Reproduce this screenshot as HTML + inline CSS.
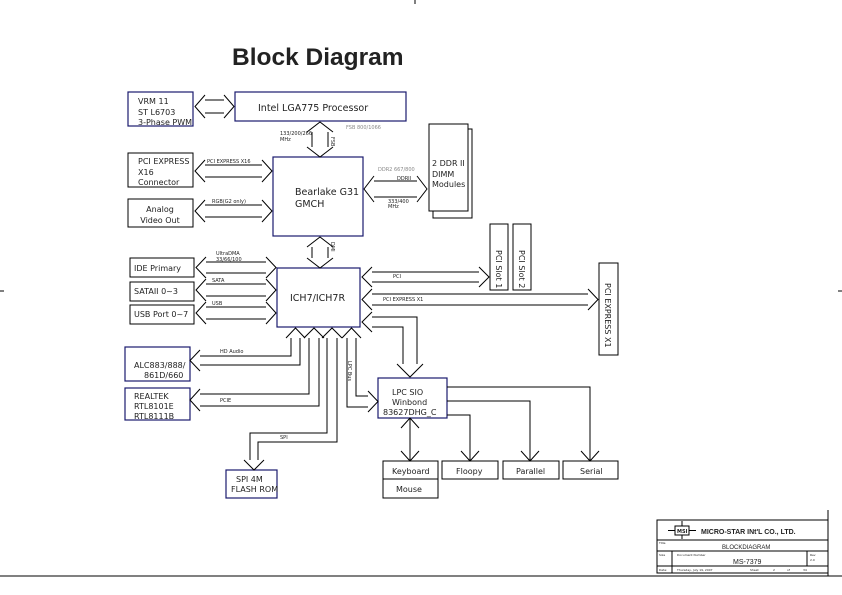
<!DOCTYPE html>
<html><head><meta charset="utf-8"><style>
html,body{margin:0;padding:0;background:#fff}
svg{display:block}
text{font-family:"DejaVu Sans","Liberation Sans",sans-serif;fill:#222}
.b{fill:#fff;stroke:#1a1a6e;stroke-width:1.2}
.k{fill:#fff;stroke:#000;stroke-width:1}
.l{fill:none;stroke:#000;stroke-width:1}
.t{font-size:8px}
.s{font-size:5px}
.g{font-size:5px;fill:#888}
</style></head><body>
<svg width="842" height="595" viewBox="0 0 842 595" xmlns="http://www.w3.org/2000/svg">
<text x="232" y="65" style="font-family:'Liberation Sans',sans-serif;font-weight:bold;font-size:24.5px" fill="#000">Block Diagram</text>
<line x1="415" y1="0" x2="415" y2="4" class="l"/>
<line x1="0" y1="291" x2="4" y2="291" class="l"/>
<line x1="838" y1="291" x2="842" y2="291" class="l"/>

<!-- boxes -->
<rect class="b" x="128" y="92" width="65" height="34"/>
<text class="t" x="138" y="104">VRM 11</text><text class="t" x="138" y="115">ST L6703</text><text class="t" x="138" y="125">3-Phase PWM</text>
<rect class="b" x="235" y="92" width="171" height="29"/>
<text x="258" y="111" style="font-size:9.5px">Intel LGA775 Processor</text>
<rect class="k" x="128" y="153" width="65" height="34"/>
<text class="t" x="138" y="164">PCI EXPRESS</text><text class="t" x="138" y="175">X16</text><text class="t" x="138" y="185">Connector</text>
<rect class="k" x="128" y="199" width="65" height="28"/>
<text class="t" x="160" y="212" text-anchor="middle">Analog</text><text class="t" x="160" y="223" text-anchor="middle">Video Out</text>
<rect class="b" x="273" y="157" width="90" height="79"/>
<text x="295" y="195" style="font-size:9.5px">Bearlake G31</text><text x="295" y="207" style="font-size:9.5px">GMCH</text>
<rect class="k" x="433" y="129" width="39" height="89"/>
<rect class="k" x="429" y="124" width="39" height="87"/>
<text class="t" x="432" y="166">2 DDR II</text><text class="t" x="432" y="177">DIMM</text><text class="t" x="432" y="187">Modules</text>

<rect class="k" x="130" y="258" width="64" height="19"/><text class="t" x="134" y="271">IDE Primary</text>
<rect class="k" x="130" y="282" width="64" height="19"/><text class="t" x="134" y="294">SATAII 0~3</text>
<rect class="k" x="130" y="305" width="64" height="19"/><text class="t" x="134" y="317">USB Port 0~7</text>
<rect class="b" x="277" y="268" width="83" height="59"/>
<text x="290" y="301" style="font-size:9.5px">ICH7/ICH7R</text>
<rect class="k" x="490" y="224" width="18" height="66"/>
<text class="t" transform="translate(496,250) rotate(90)">PCI Slot 1</text>
<rect class="k" x="513" y="224" width="18" height="66"/>
<text class="t" transform="translate(519,250) rotate(90)">PCI Slot 2</text>
<rect class="k" x="599" y="263" width="19" height="92"/>
<text class="t" transform="translate(605,283) rotate(90)">PCI EXPRESS X1</text>

<rect class="b" x="125" y="347" width="65" height="34"/>
<text class="t" x="134" y="368">ALC883/888/</text><text class="t" x="144" y="378">861D/660</text>
<rect class="b" x="125" y="388" width="65" height="32"/>
<text class="t" x="134" y="399">REALTEK</text><text class="t" x="134" y="409">RTL8101E</text><text class="t" x="134" y="419">RTL8111B</text>
<rect class="b" x="378" y="378" width="69" height="40"/>
<text class="t" x="392" y="395">LPC SIO</text><text class="t" x="392" y="405">Winbond</text><text class="t" x="383" y="415">83627DHG_C</text>
<rect class="b" x="226" y="470" width="51" height="28"/>
<text class="t" x="236" y="482">SPI 4M</text><text class="t" x="231" y="492">FLASH ROM</text>
<rect class="k" x="383" y="461" width="55" height="37"/><line class="l" x1="383" y1="479" x2="438" y2="479"/>
<text class="t" x="392" y="474">Keyboard</text><text class="t" x="396" y="492">Mouse</text>
<rect class="k" x="442" y="461" width="56" height="18"/><text class="t" x="456" y="474">Floopy</text>
<rect class="k" x="503" y="461" width="56" height="18"/><text class="t" x="516" y="474">Parallel</text>
<rect class="k" x="563" y="461" width="55" height="18"/><text class="t" x="580" y="474">Serial</text>

<!-- arrows -->
<g class="l">
<path d="M205 95L195 106.5L205 118M205 100H224M205 113H224M224 95L234 106.5L224 118"/>
<path d="M205 160L195 171L205 182M205 165H262M205 177H262M262 160L272 171L262 182"/>
<path d="M205 200L195 211L205 222M205 205H262M205 217H262M262 200L272 211L262 222"/>
<path d="M374 176L364 189L374 202M374 181H417M374 197H417M417 176L427 189L417 202"/>
<path d="M307 132L320 122L333 132M312 132V147M328 132V147M307 147L320 157L333 147"/>
<path d="M307 247L320 237L333 247M312 247V258M328 247V258M307 258L320 268L333 258"/>
<path d="M206 257L196 267.5L206 278M206 262H266M206 273H266M266 257L276 267.5L266 278"/>
<path d="M206 279L196 290L206 301M206 284H266M206 296H266M266 279L276 290L266 301"/>
<path d="M206 302L196 313L206 324M206 307H266M206 319H266M266 302L276 313L266 324"/>
<path d="M372 267L362 277L372 287M372 272H479M372 282H479M479 267L489 277L479 287"/>
<path d="M372 289L362 299.5L372 310M372 294H588M372 305H588M588 289L598 299.5L588 310"/>
<path d="M372 312L362 322L372 332M372 317H417V364M372 327H403V364M397 364L410 377L423 364"/>
<path d="M286 338L295.5 328L305 338M291 338V356H200M300 338V365H200M200 350L190 360.5L200 371"/>
<path d="M304 338L314 328L324 338M309 338V394H200M319 338V406H200M200 389L190 400L200 411"/>
<path d="M322 338L332 328L342 338M327 338V433H250V460M337 338V442H258V460M244 460L254 470L264 460"/>
<path d="M342 338L351.5 328L361 338M347 338V407H368M356 338V396H368M368 391L378 401.5L368 412"/>
<path d="M401 428L410 418L419 428M410 418V461M401 451L410 461L419 451"/>
<path d="M447 415H470V461M461 451L470 461L479 451"/>
<path d="M447 401H530V461M521 451L530 461L539 451"/>
<path d="M447 387H590V461M581 451L590 461L599 451"/>
</g>

<!-- labels -->
<text class="s" x="280" y="135">133/200/266</text><text class="s" x="280" y="141">MHz</text>
<text class="s" transform="translate(331,137) rotate(90)">FSB</text>
<text class="g" x="346" y="129">FSB 800/1066</text>
<text class="s" x="207" y="163">PCI EXPRESS X16</text>
<text class="s" x="212" y="203">RGB(G2 only)</text>
<text class="g" x="378" y="171">DDR2 667/800</text>
<text class="s" x="397" y="180">DDRII</text>
<text class="s" x="388" y="203">333/400</text><text class="s" x="388" y="208">MHz</text>
<text class="s" transform="translate(331,242) rotate(90)">DMI</text>
<text class="s" x="216" y="255">UltraDMA</text><text class="s" x="216" y="261">33/66/100</text>
<text class="s" x="212" y="282">SATA</text>
<text class="s" x="212" y="305">USB</text>
<text class="s" x="393" y="278">PCI</text>
<text class="s" x="383" y="301">PCI EXPRESS X1</text>
<text class="s" x="220" y="353">HD Audio</text>
<text class="s" x="220" y="402">PCIE</text>
<text class="s" x="280" y="439">SPI</text>
<text class="s" transform="translate(348,361) rotate(90)">LPC Bus</text>

<!-- title block -->
<g class="l">
<line x1="0" y1="576" x2="842" y2="576"/>
<rect x="657" y="520" width="171" height="53"/>
<line x1="828" y1="510" x2="828" y2="576"/>
<line x1="657" y1="540" x2="828" y2="540"/>
<line x1="657" y1="551" x2="828" y2="551"/>
<line x1="657" y1="566" x2="828" y2="566"/>
<line x1="672" y1="551" x2="672" y2="573"/>
<line x1="807" y1="551" x2="807" y2="566"/>
<rect x="675" y="526" width="14" height="9"/>
<path d="M675 530.5H668M689 530.5H696M682 526V521M682 535V539"/>
</g>
<text x="677" y="533" style="font-size:5px;font-weight:bold">MSI</text>
<text x="701" y="534" style="font-family:'Liberation Sans',sans-serif;font-size:7px;font-weight:bold">MICRO-STAR INt'L CO., LTD.</text>
<text x="659" y="544" style="font-size:3px">Title</text>
<text x="722" y="549" style="font-family:'Liberation Sans',sans-serif;font-size:6px">BLOCKDIAGRAM</text>
<text x="659" y="556" style="font-size:3px">Size</text>
<text x="677" y="556" style="font-size:3px">Document Number</text>
<text x="733" y="564" style="font-family:'Liberation Sans',sans-serif;font-size:7px">MS-7379</text>
<text x="810" y="556" style="font-size:3px">Rev</text><text x="810" y="561" style="font-size:3px">2.0</text>
<text x="659" y="571" style="font-size:3px">Date:</text>
<text x="677" y="571" style="font-size:3px">Thursday, July 19, 2007</text>
<text x="750" y="571" style="font-size:3px">Sheet</text>
<text x="773" y="571" style="font-size:3px">2</text><text x="787" y="571" style="font-size:3px">of</text><text x="803" y="571" style="font-size:3px">34</text>
</svg>
</body></html>
